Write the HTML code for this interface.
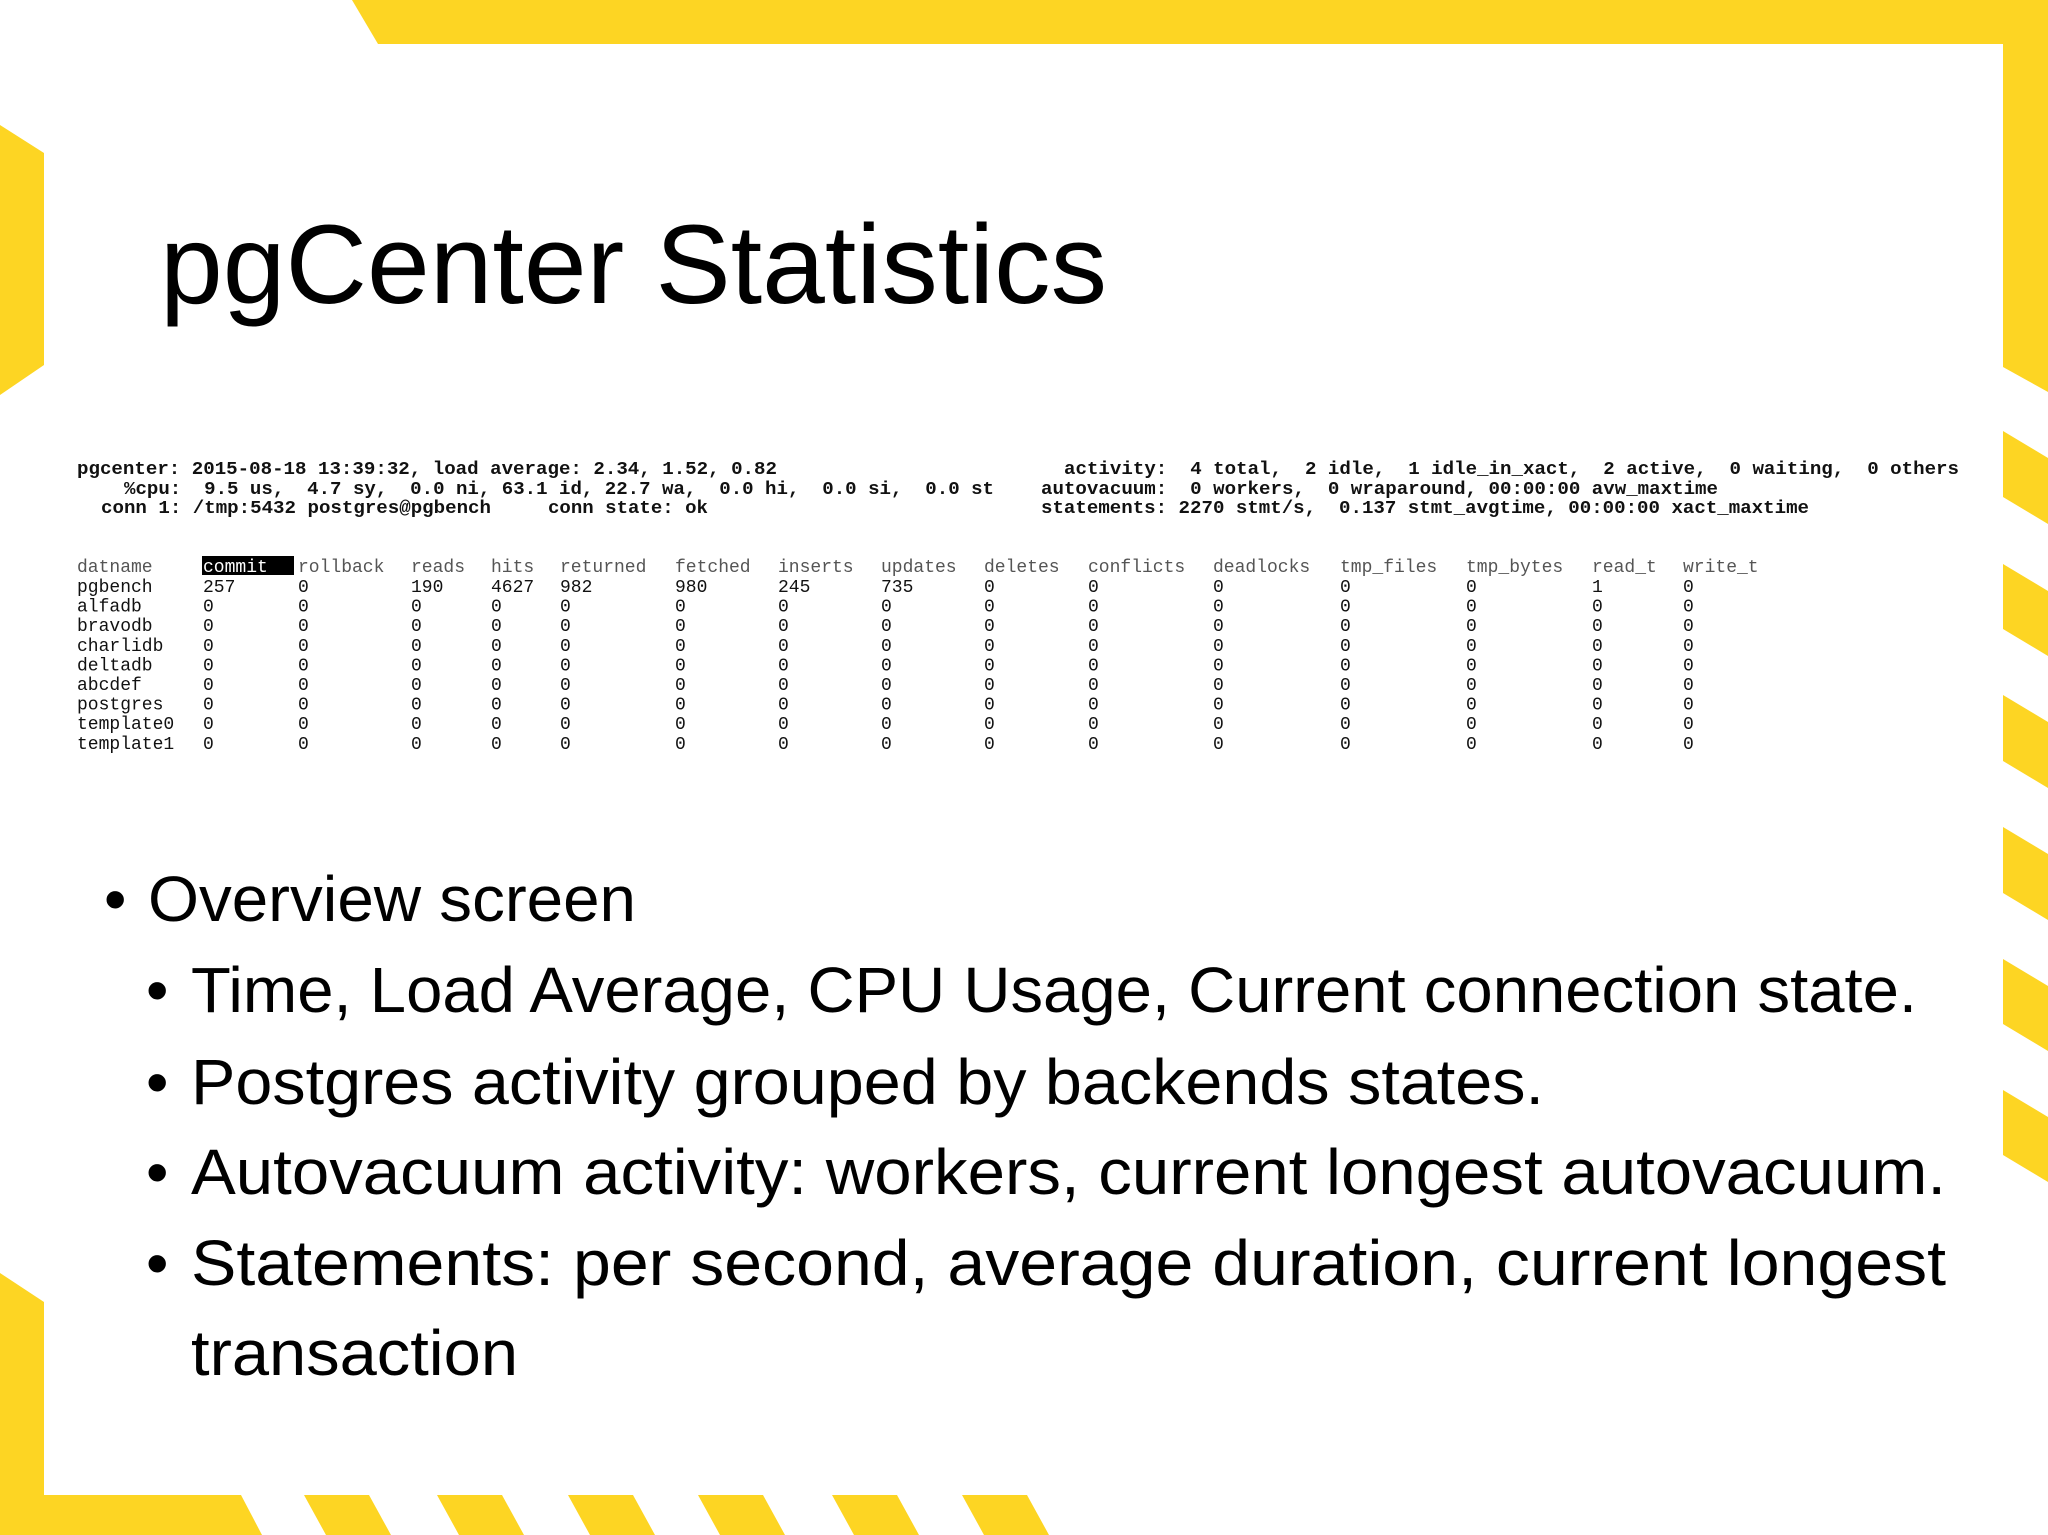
<!DOCTYPE html>
<html><head><meta charset="utf-8"><style>
html,body{margin:0;padding:0;background:#fff;}
svg{display:block;}
.t{font-family:"Liberation Sans","DejaVu Sans",sans-serif;fill:#000;}
.m{font-family:"Liberation Mono","DejaVu Sans Mono",monospace;font-size:18px;fill:#111;white-space:pre;}
.h{fill:#555;}
</style></head><body>
<svg id="s" width="2048" height="1535" viewBox="0 0 2048 1535" xmlns="http://www.w3.org/2000/svg" xml:space="preserve">
<g fill="#FDD523">
<polygon points="352,0 2048,0 2048,44 378,44"/>
<polygon points="2003,0 2048,0 2048,392 2003,367"/>
<polygon points="0,125 44,153 44,365 0,395"/>
<polygon points="0,1273 44,1302 44,1535 0,1535"/>
<polygon points="0,1495 241,1495 262,1535 0,1535"/>
<g id="rs"></g>
<g id="bs"></g>
</g>
<text class="t" x="160" y="303" font-size="112" textLength="947" lengthAdjust="spacingAndGlyphs">pgCenter Statistics</text>

<g font-weight="600">
<text class="m" x="77" y="474" textLength="700" lengthAdjust="spacingAndGlyphs">pgcenter: 2015-08-18 13:39:32, load average: 2.34, 1.52, 0.82</text>
<text class="m" x="1064" y="474" textLength="895" lengthAdjust="spacingAndGlyphs">activity:  4 total,  2 idle,  1 idle_in_xact,  2 active,  0 waiting,  0 others</text>
<text class="m" x="124" y="494" textLength="870" lengthAdjust="spacingAndGlyphs">%cpu:  9.5 us,  4.7 sy,  0.0 ni, 63.1 id, 22.7 wa,  0.0 hi,  0.0 si,  0.0 st</text>
<text class="m" x="1041" y="494" textLength="677" lengthAdjust="spacingAndGlyphs">autovacuum:  0 workers,  0 wraparound, 00:00:00 avw_maxtime</text>
<text class="m" x="101" y="513" textLength="390" lengthAdjust="spacingAndGlyphs">conn 1: /tmp:5432 postgres@pgbench</text>
<text class="m" x="548" y="513" textLength="160" lengthAdjust="spacingAndGlyphs">conn state: ok</text>
<text class="m" x="1041" y="513" textLength="768" lengthAdjust="spacingAndGlyphs">statements: 2270 stmt/s,  0.137 stmt_avgtime, 00:00:00 xact_maxtime</text>
</g>
<rect x="202" y="556" width="92" height="19" fill="#000"/>
<g id="tbl"></g>

<g class="t" font-size="64">
<text x="104" y="921">•</text>
<text x="148" y="921" textLength="488" lengthAdjust="spacingAndGlyphs">Overview screen</text>
<text x="146" y="1012">•</text>
<text x="191" y="1012" textLength="1726" lengthAdjust="spacingAndGlyphs">Time, Load Average, CPU Usage, Current connection state.</text>
<text x="146" y="1104">•</text>
<text x="191" y="1104" textLength="1353" lengthAdjust="spacingAndGlyphs">Postgres activity grouped by backends states.</text>
<text x="146" y="1194">•</text>
<text x="191" y="1194" textLength="1755" lengthAdjust="spacingAndGlyphs">Autovacuum activity: workers, current longest autovacuum.</text>
<text x="146" y="1285">•</text>
<text x="191" y="1285" textLength="1755" lengthAdjust="spacingAndGlyphs">Statements: per second, average duration, current longest</text>
<text x="191" y="1375" textLength="327" lengthAdjust="spacingAndGlyphs">transaction</text>
</g>
</svg>
<script>
const NS="http://www.w3.org/2000/svg";
const columns=["datname","commit","rollback","reads","hits","returned","fetched","inserts","updates","deletes","conflicts","deadlocks","tmp_files","tmp_bytes","read_t","write_t"];
const databases=["pgbench","alfadb","bravodb","charlidb","deltadb","abcdef","postgres","template0","template1"];
const pgbenchRow=[257,0,190,4627,982,980,245,735,0,0,0,0,0,1,0];
const otherRow=[0,0,0,0,0,0,0,0,0,0,0,0,0,0,0];
const colX=[77,203,298,411,491,560,675,778,881,984,1088,1213,1340,1466,1592,1683];
const tbl=document.getElementById('tbl');
function txt(x,y,s,cls){const t=document.createElementNS(NS,'text');t.setAttribute('x',x);t.setAttribute('y',y);t.setAttribute('class',cls);t.textContent=s;tbl.appendChild(t);return t;}
columns.forEach((c,i)=>{const t=txt(colX[i],572,c,'m h');if(i==1)t.style.fill='#fff';

});
databases.forEach((d,r)=>{const y=592+r*19.6;const vals=r==0?pgbenchRow:otherRow;
const n=txt(colX[0],y,d,'m');


vals.forEach((v,i)=>{const t=txt(colX[i+1],y,String(v),'m');

});});
const rs=document.getElementById('rs');
[[431,497],[564,629],[695,761],[827,893],[959,1024],[1090,1155]].forEach(([a,b])=>{const p=document.createElementNS(NS,'polygon');
p.setAttribute('points',`2003,${a} 2048,${a+27} 2048,${b+27} 2003,${b}`);

rs.appendChild(p);});
const bs=document.getElementById('bs');
[304,437,568,698,832,962].forEach(x=>{const p=document.createElementNS(NS,'polygon');
p.setAttribute('points',`${x},1495 ${x+65},1495 ${x+87},1535 ${x+22},1535`);

bs.appendChild(p);});
</script>
</body></html>
